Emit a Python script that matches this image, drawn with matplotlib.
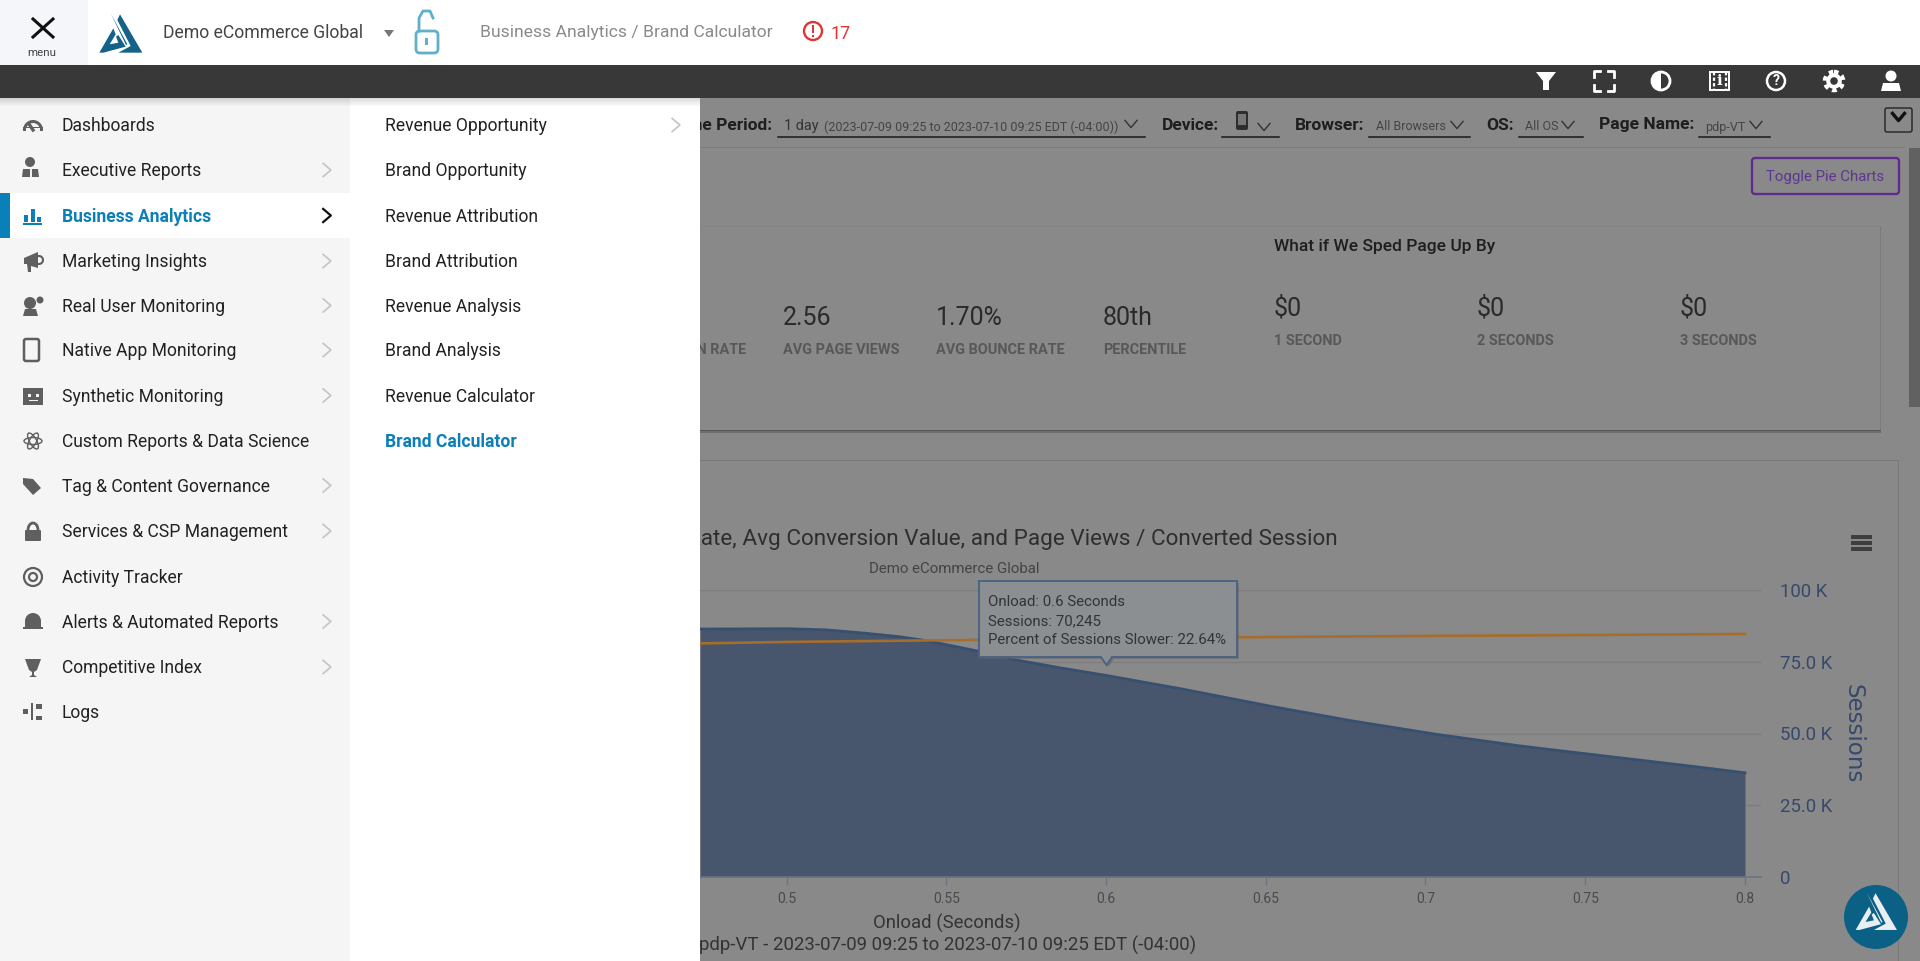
import matplotlib
matplotlib.use("Agg")
import matplotlib.pyplot as plt
from matplotlib.patches import Rectangle, Circle, Polygon, FancyBboxPatch, Wedge, Ellipse, Arc

plt.rcParams['font.family'] = ['Roboto', 'DejaVu Sans']

W, H = 1920, 961

# chart data (sessions in thousands)
onload_x = [0.473, 0.501, 0.5125, 0.525, 0.5355, 0.544, 0.552, 0.5595, 0.572, 0.5855, 0.6,
            0.6243, 0.651, 0.677, 0.7035, 0.73, 0.7565, 0.7825, 0.8]
sessions = [86.4, 86.5, 86.1, 84.9, 83.7, 82.3, 80.5, 78.8, 75.6, 72.9, 70.245,
            65.4, 59.6, 54.4, 49.7, 45.6, 42.1, 38.7, 36.3]
rate_x = [0.473, 0.5, 0.55, 0.6, 0.65, 0.7, 0.75, 0.8]
rate_y = [81.4, 81.9, 82.5, 83.1, 83.6, 84.0, 84.3, 84.7]

x_ticks = [0.5, 0.55, 0.6, 0.65, 0.7, 0.75, 0.8]
x_tick_labels = ['0.5', '0.55', '0.6', '0.65', '0.7', '0.75', '0.8']
y_ticks = [0, 25, 50, 75, 100]
y_tick_labels = ['0', '25.0 K', '50.0 K', '75.0 K', '100 K']

menu_items = ['Dashboards', 'Executive Reports', 'Business Analytics', 'Marketing Insights',
              'Real User Monitoring', 'Native App Monitoring', 'Synthetic Monitoring',
              'Custom Reports & Data Science', 'Tag & Content Governance',
              'Services & CSP Management', 'Activity Tracker', 'Alerts & Automated Reports',
              'Competitive Index', 'Logs']
menu_no_arrow = ['Dashboards', 'Custom Reports & Data Science', 'Activity Tracker', 'Logs']
sub_items = ['Revenue Opportunity', 'Brand Opportunity', 'Revenue Attribution', 'Brand Attribution',
             'Revenue Analysis', 'Brand Analysis', 'Revenue Calculator', 'Brand Calculator']
row_y = [125, 170, 215.5, 261, 305.5, 350, 395.5, 441, 485.5, 531, 577, 621.5, 667, 711.5]

kpi_values = ['2.56', '1.70%', '80th']
kpi_labels = ['AVG PAGE VIEWS', 'AVG BOUNCE RATE', 'PERCENTILE']
kpi_left = [782.6, 936, 1103]
speedup_values = ['$0', '$0', '$0']
speedup_labels = ['1 SECOND', '2 SECONDS', '3 SECONDS']
speedup_left = [1274, 1477, 1680]

GRAY = '#898989'
BLUE = '#0d7fb8'
DARK = '#383838'
AXIS_BLUE = '#37496a'

fig = plt.figure(figsize=(W / 100, H / 100), dpi=100, facecolor=GRAY)

# the chart itself, behind the menu
ax = fig.add_axes([700 / W, 1 - 877 / H, (1761 - 700) / W, (877 - 590) / H], zorder=1)
ax.patch.set_alpha(0)
px_per_x = (1745 - 786.5) / 0.3
ax.set_xlim(0.5 - (786.5 - 700) / px_per_x, 0.8 + (1761 - 1745) / px_per_x)
ax.set_ylim(0, 100)
ax.fill_between(onload_x, sessions, color='#47566c', lw=0)
ax.plot(onload_x, sessions, color='#38506f', lw=2)
ax.plot(rate_x, rate_y, color='#a66d2c', lw=1.9)
ax.set_xticks(x_ticks)
ax.set_xticklabels(x_tick_labels, fontsize=10, color='#4a4a4a')
ax.yaxis.tick_right()
ax.set_yticks(y_ticks)
ax.set_yticklabels(y_tick_labels, fontsize=13.4, color=AXIS_BLUE)
ax.tick_params(axis='y', length=0, pad=13.5)
ax.tick_params(axis='x', length=6, color='#6c7484', width=1, pad=5)
ax.grid(axis='y', color='#7d7d7d', lw=1)
ax.set_axisbelow(True)
for name in ['top', 'left', 'right']:
    ax.spines[name].set_visible(False)
ax.spines['bottom'].set_color('#6c7484')
ax.spines['bottom'].set_linewidth(1.2)

# everything else in pixel coordinates
ui = fig.add_axes([0, 0, 1, 1], zorder=2)
ui.set_xlim(0, W)
ui.set_ylim(H, 0)
ui.axis('off')
ui.patch.set_alpha(0)


def txt(x, y, s, px, color='#222222', weight='normal', ha='left', **kw):
    return ui.text(x, y + 1, s, fontsize=px * 0.72, color=color, weight=weight, ha=ha, va='center', **kw)


def rect(x0, y0, x1, y1, color, z=1, **kw):
    ui.add_patch(Rectangle((x0, y0), x1 - x0, y1 - y0, fc=color, ec='none', zorder=z, **kw))


def chevron(x, y, color, s=5, lw=1.2, z=6):
    ui.plot([x - s * 0.7, x + s * 0.7, x - s * 0.7], [y - s * 1.2, y, y + s * 1.2], color=color, lw=lw, zorder=z)


def down(x, y, color='#333333', s=6, lw=1):
    ui.plot([x - s, x, x + s], [y - s * 0.6, y + s * 0.6, y - s * 0.6], color=color, lw=lw, zorder=3)


def logo(x0, y0, s, color, z):
    right = [(90, 28), (157, 143), (85, 143), (122, 123), (82, 45)]
    left = [(70, 70), (77, 88), (59, 118), (85, 113), (78, 95), (85, 90), (107, 125), (40, 143), (28, 143)]
    spike = [(62, 25), (112, 118), (108, 120)]
    for shape in (right, left, spike):
        ui.add_patch(Polygon([(x0 + px * s, y0 + py * s) for px, py in shape], fc=color, ec='none', zorder=z))


# page behind the dimmed overlay
rect(700, 146.5, 1905, 147.5, '#7d7d7d')
rect(700, 226, 1881, 227, '#858585')
rect(1880, 226, 1881, 431, '#7c7c7c')
rect(700, 430, 1881, 431, '#555555')
rect(700, 431, 1881, 433, '#6e6e6e')
rect(700, 460, 1898, 461, '#787878')
rect(1897.5, 460, 1898.5, H, '#787878')
rect(1909, 148, 1920, 407, '#616161')

# filter row
txt(772, 124, 'Time Period:', 17.4, '#1e1e1e', 'bold', ha='right')
for x0, x1 in [(778, 1145), (1222, 1279), (1369, 1470), (1519, 1583), (1699, 1770)]:
    ui.plot([x0, x1], [136.5, 136.5], color='#1a1a1a', lw=1.1, zorder=3)
txt(784, 125, '1 day', 14.5, '#333333')
txt(824, 126, '(2023-07-09 09:25 to 2023-07-10 09:25 EDT (-04:00))', 12.55, '#444444')
down(1131, 124)
txt(1161.5, 124, 'Device:', 17.4, '#1e1e1e', 'bold')
ui.add_patch(FancyBboxPatch((1236, 111), 12, 19, boxstyle='round,pad=0,rounding_size=2', fc='#2e2e2e', ec='none', zorder=3))
rect(1238, 114, 1246, 125, '#777777', z=4)
down(1264, 127)
txt(1295, 124, 'Browser:', 17.4, '#1e1e1e', 'bold')
txt(1375.5, 126, 'All Browsers', 12.5, '#444444')
down(1457, 125)
txt(1486, 124, 'OS:', 17.4, '#1e1e1e', 'bold')
txt(1525, 126, 'All OS', 12.5, '#444444')
down(1568, 125)
txt(1599, 124, 'Page Name:', 17.4, '#1e1e1e', 'bold')
txt(1705, 126, 'pdp-VT', 12.5, '#444444')
down(1756, 125)
ui.add_patch(FancyBboxPatch((1885, 108), 27, 24, boxstyle='round,pad=0,rounding_size=2', fc='none', ec='#222222', lw=1, zorder=3))
down(1898.5, 117, '#111111', s=6, lw=2.4)
ui.add_patch(FancyBboxPatch((1752, 158), 147, 36, boxstyle='round,pad=0,rounding_size=3', fc='none', ec='#5f2b8c', lw=1.7, zorder=3))
txt(1825.5, 176, 'Toggle Pie Charts', 15, '#5e3590', ha='center')

# kpi card
txt(1274, 246, 'What if We Sped Page Up By', 17.4, '#1e1e1e', 'medium')
for x, v, l in zip(kpi_left, kpi_values, kpi_labels):
    txt(x, 317, v, 25, '#2a2a2a')
    txt(x, 349, l, 14.5, '#585858', 'bold')
txt(746, 349, 'CONVERSION RATE', 14.5, '#585858', 'bold', ha='right')
for x, v, l in zip(speedup_left, speedup_values, speedup_labels):
    txt(x, 307, v, 25, '#2a2a2a')
    txt(x, 340, l, 14.5, '#585858', 'bold')

# chart texts
txt(1338, 538, 'Conversion Rate, Avg Conversion Value, and Page Views / Converted Session', 22.45, '#2e2e2e', ha='right')
txt(954.5, 568, 'Demo eCommerce Global', 15, '#444444', ha='center')
for y in [537, 543, 549]:
    rect(1851, y - 2, 1872, y + 2, '#3e3e3e')
txt(946.5, 922, 'Onload (Seconds)', 18.5, '#333333', ha='center')
txt(1196, 944, 'pdp-VT - 2023-07-09 09:25 to 2023-07-10 09:25 EDT (-04:00)', 18.7, '#333333', ha='right')
ui.text(1853, 734, 'Sessions', fontsize=16.6, family='DejaVu Sans', color=AXIS_BLUE, rotation=270, ha='center', va='center')

# tooltip
tip = [(979, 581), (1237, 581), (1237, 657), (1112, 657), (1106.5, 665), (1101, 657), (979, 657)]
ui.add_patch(Polygon([(x + 2, y + 2) for x, y in tip], fc='#666666', ec='none', alpha=0.6, zorder=2.9))
ui.add_patch(Polygon(tip, fc='#8c8f92', ec='#4c6384', lw=1.4, zorder=3))
txt(988, 601, 'Onload: 0.6 Seconds', 15, '#333333', zorder=4)
txt(988, 620, 'Sessions: 70,245', 15, '#333333', zorder=4)
txt(988, 639, 'Percent of Sessions Slower: 22.64%', 15, '#333333', zorder=4)

# corner badge
ui.add_patch(Circle((1876, 917), 32, fc='#0a6185', ec='none', zorder=3))
logo(1846.7, 884.2, 0.32, '#e8eef1', 4)

# menu panels
rect(0, 98, 350, H, '#f5f5f5', z=5)
rect(350, 98, 700, H, '#ffffff', z=5)
for i in range(8):
    rect(0, 98 + i, 700, 99 + i, '#000000', z=5.5, alpha=0.14 - i * 0.017)
rect(0, 193, 350, 238, '#ffffff', z=5.2)
rect(0, 193, 10, 238, '#0a80b8', z=5.4)

for label, y in zip(menu_items, row_y):
    active = label == 'Business Analytics'
    txt(61.5, y, label, 17.55, BLUE if active else '#222222', 'bold' if active else 'normal', zorder=6)
    if active:
        chevron(327, y, '#111111', s=5.5, lw=1.6)
    elif label not in menu_no_arrow:
        chevron(327, y, '#c4c4c4', s=5.5)
for i, label in enumerate(sub_items):
    active = label == 'Brand Calculator'
    txt(385, row_y[i], label, 17.55, BLUE if active else '#222222', 'bold' if active else 'normal', zorder=6)
chevron(676, row_y[0], '#c4c4c4', s=5.5)

# menu icons, rough shapes
ic = '#5f5f5f'
z = 6
ui.add_patch(Wedge((33, 130), 10, 180, 360, width=3, fc=ic, ec='none', zorder=z))
rect(23, 127, 43, 131, ic, z=z)
rect(26, 128, 40, 131, '#f5f5f5', z=z + 0.1)
ui.plot([29, 33], [124, 130], color=ic, lw=2.4, zorder=z + 0.2)
ui.add_patch(Circle((30, 162), 5, fc=ic, zorder=z))
ui.add_patch(Polygon([(22, 177), (23, 169), (38, 169), (39, 177)], fc=ic, zorder=z))
ui.plot([30.5, 30.5], [168, 177], color='#f5f5f5', lw=1.4, zorder=z + 0.1)
for x, h in [(26, 7), (33, 13), (39, 5)]:
    rect(x - 2, 222 - h, x + 2, 222, BLUE, z=z)
rect(23, 223, 42, 225, BLUE, z=z)
ui.add_patch(Polygon([(24, 258), (38, 252), (38, 268), (31, 266), (31, 272), (28, 272), (27, 264), (24, 264)], fc=ic, zorder=z))
ui.add_patch(Circle((39, 260), 4, fc='none', ec=ic, lw=1.5, zorder=z))
ui.add_patch(Circle((30, 303), 6, fc=ic, zorder=z))
ui.add_patch(Polygon([(23, 316), (25, 309), (36, 309), (38, 316)], fc=ic, zorder=z))
ui.add_patch(Circle((40, 300), 3.5, fc=ic, zorder=z))
ui.add_patch(FancyBboxPatch((24, 339), 15, 22, boxstyle='round,pad=0,rounding_size=2', fc='#f5f5f5', ec=ic, lw=1.8, zorder=z))
rect(23, 388, 43, 405, ic, z=z)
rect(28, 394, 31, 397, '#f5f5f5', z=z + 1)
rect(36, 394, 39, 397, '#f5f5f5', z=z + 1)
rect(29, 400, 38, 401, '#f5f5f5', z=z + 1)
for ang in [0, 60, 120]:
    ui.add_patch(Ellipse((33, 441), 18, 7, angle=ang, fc='none', ec=ic, lw=1, zorder=z))
ui.add_patch(Polygon([(23, 478), (33, 479), (41, 488), (33, 495), (23, 484)], fc=ic, zorder=z))
ui.add_patch(FancyBboxPatch((25, 530), 16, 11, boxstyle='round,pad=0,rounding_size=1', fc=ic, ec='none', zorder=z))
ui.add_patch(Arc((33, 530), 10, 14, theta1=180, theta2=360, ec=ic, lw=2, zorder=z))
ui.add_patch(Circle((33, 577), 9, fc='none', ec=ic, lw=1.6, zorder=z))
ui.add_patch(Circle((33, 577), 4, fc='none', ec=ic, lw=1.6, zorder=z))
ui.add_patch(Wedge((33, 621), 8, 180, 360, fc=ic, zorder=z))
rect(25, 621, 41, 628, ic, z=z)
rect(23, 627, 43, 629, ic, z=z)
ui.add_patch(Polygon([(25, 659), (41, 659), (37, 670), (34, 672), (34, 675), (37, 677), (29, 677), (32, 675), (32, 672), (29, 670)], fc=ic, zorder=z))
rect(23, 709, 28, 714, ic, z=z)
rect(31, 703, 33, 720, ic, z=z)
rect(36, 704, 42, 709, ic, z=z)
rect(36, 716, 42, 720, ic, z=z)

# top bar
rect(0, 0, W, 65, '#ffffff', z=7)
rect(0, 0, 88, 65, '#f5f6fa', z=7.1)
rect(0, 65, W, 98, DARK, z=7)
ui.plot([33, 53], [19, 37], color='#111111', lw=2.2, zorder=8)
ui.plot([53, 33], [19, 37], color='#111111', lw=2.2, zorder=8)
txt(42, 52, 'menu', 11.5, '#444444', ha='center', zorder=8)
logo(90, 5, 1 / 3, '#14628a', 8)
txt(163, 32, 'Demo eCommerce Global', 17.6, '#444444', zorder=8)
ui.add_patch(Polygon([(384, 30), (394, 30), (389, 37)], fc='#777777', ec='none', zorder=8))
ui.add_patch(FancyBboxPatch((416, 31), 22, 22, boxstyle='round,pad=0,rounding_size=4', fc='none', ec='#5fb0c8', lw=2, zorder=8))
ui.plot([419, 419, 423, 430, 433], [31, 18, 11, 11, 18], color='#5fb0c8', lw=2, zorder=8)
rect(425, 38, 428, 45, '#5fb0c8', z=8)
txt(480, 32, 'Business Analytics / Brand Calculator', 17.5, '#8a8a8a', zorder=8)
ui.add_patch(Circle((813, 31), 9, fc='none', ec='#e03535', lw=1.7, zorder=8))
rect(812, 25, 814.2, 33, '#e03535', z=8)
rect(812, 35, 814.2, 37, '#e03535', z=8)
txt(830, 33, '17', 18, '#e03535', zorder=8)

# toolbar icons
w = '#ffffff'
ui.add_patch(Polygon([(1536, 72), (1556, 72), (1549, 81), (1549, 90), (1543, 90), (1543, 81)], fc=w, zorder=8))
for cx, cy, sx, sy in [(1594, 71, 1, 1), (1614, 71, -1, 1), (1594, 91, 1, -1), (1614, 91, -1, -1)]:
    ui.plot([cx, cx, cx + sx * 6], [cy + sy * 6, cy, cy], color=w, lw=2, zorder=8)
ui.add_patch(Circle((1661, 81), 9, fc='none', ec=w, lw=2, zorder=8))
ui.add_patch(Wedge((1661, 81), 9, 90, 270, fc=w, zorder=8))
ui.add_patch(Rectangle((1710, 72), 19, 18, fc='none', ec=w, lw=1.4, zorder=8))
for x in [1713.5, 1725.5]:
    ui.plot([x, x], [72, 90], color=w, lw=1.6, ls=(0, (1.5, 1)), zorder=8)
txt(1719.5, 80, 'i', 15, w, 'bold', ha='center', zorder=8, family='DejaVu Serif')
ui.add_patch(Circle((1776, 81), 9, fc='none', ec=w, lw=1.8, zorder=8))
txt(1776, 80, '?', 14, w, 'bold', ha='center', zorder=8)
ui.add_patch(Circle((1834, 81), 9.2, fc='none', ec=w, lw=3, ls=(0, (1.1, 1.0)), zorder=8))
ui.add_patch(Circle((1834, 81), 7.8, fc=w, zorder=8))
ui.add_patch(Circle((1834, 81), 3.8, fc=DARK, zorder=8.1))
ui.add_patch(Circle((1891, 76), 5.5, fc=w, zorder=8))
ui.add_patch(Polygon([(1881, 91), (1883, 83), (1899, 83), (1901, 91)], fc=w, zorder=8))

fig.savefig('out.png', dpi=100, facecolor=fig.get_facecolor())
